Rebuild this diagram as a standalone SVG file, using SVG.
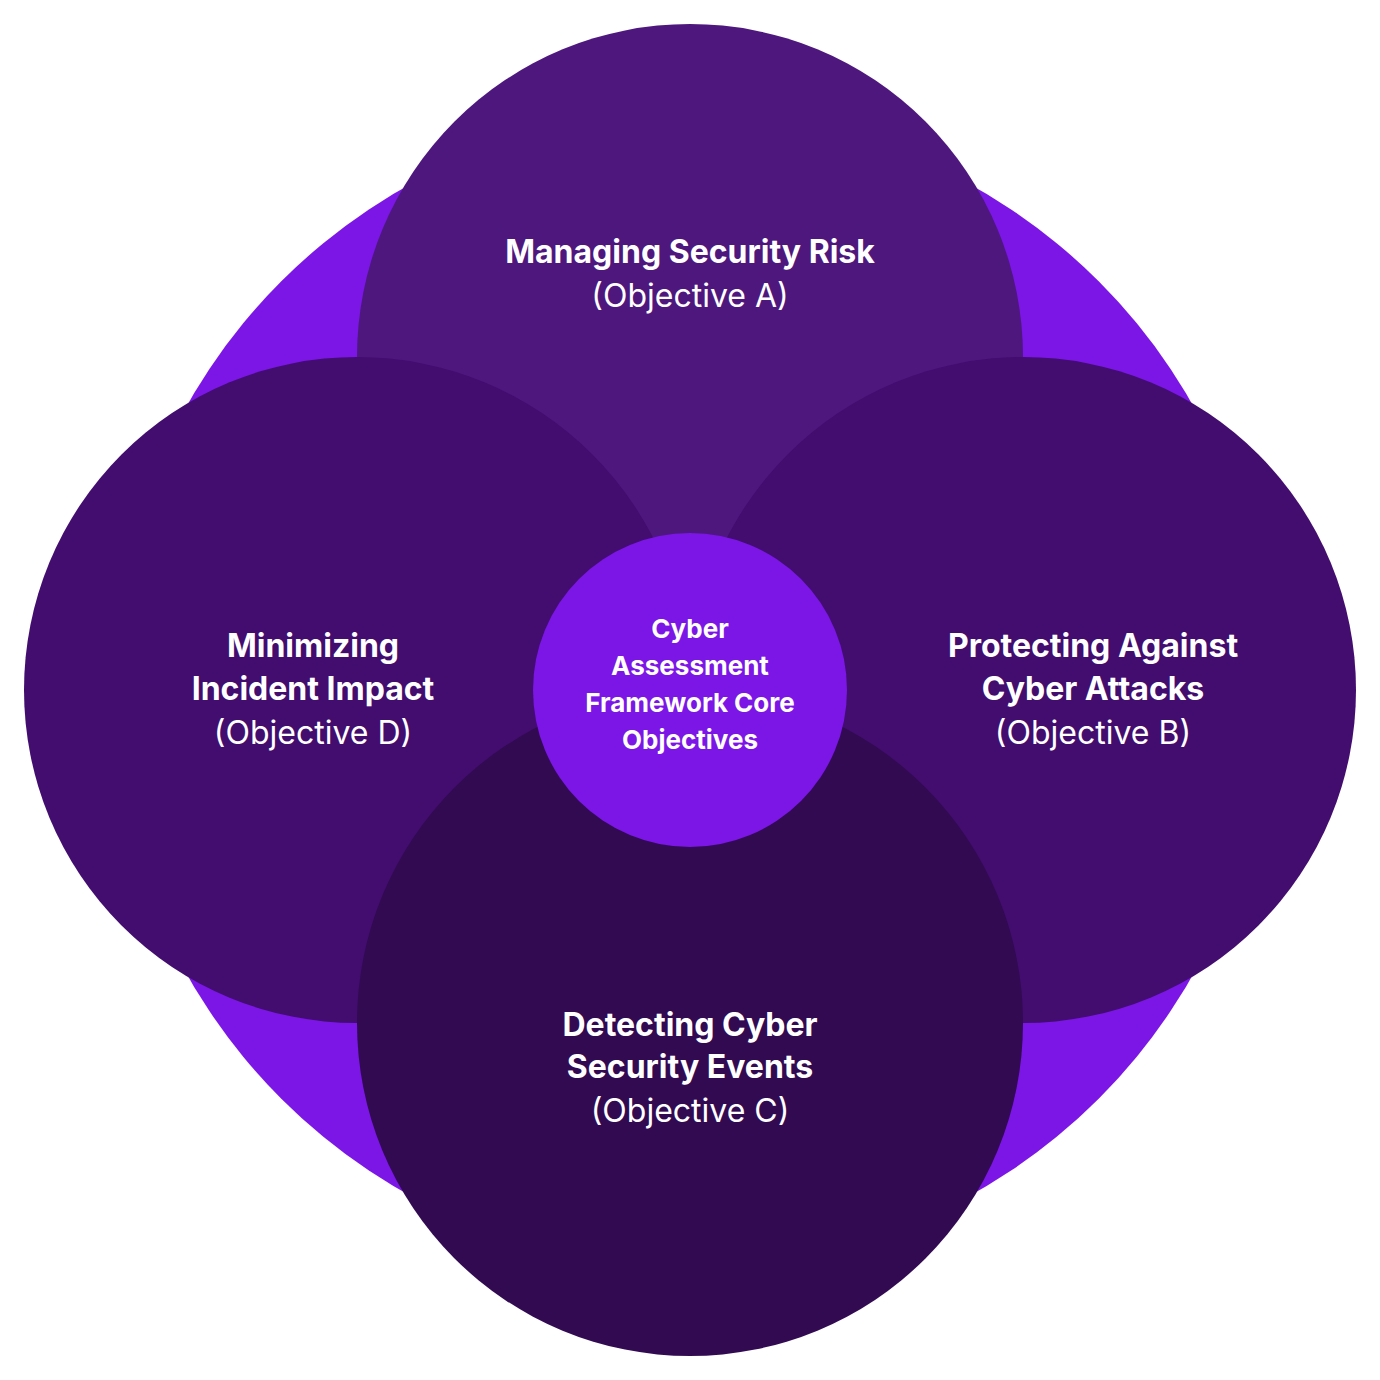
<svg xmlns="http://www.w3.org/2000/svg" width="1380" height="1380" viewBox="0 0 1380 1380">
<style>
.t{font-family:Inter,"Noto Sans",sans-serif;fill:#fff;text-anchor:middle;font-size:32px}
.b{font-weight:700}
.s{font-size:26px;font-weight:700}
</style>
<rect width="1380" height="1380" fill="#fff"/>
<g id="background"><circle cx="690" cy="690" r="578" fill="#7B16E6"/></g>
<g id="objA"><circle cx="690" cy="357" r="333" fill="#4E177D"/>
<text class="t b" x="690" y="263">Managing Security Risk</text>
<text class="t" x="690" y="307">(Objective A)</text></g>
<g id="objD"><circle cx="357" cy="690" r="333" fill="#420D6E"/>
<text class="t b" x="313" y="657">Minimizing</text>
<text class="t b" x="313" y="700">Incident Impact</text>
<text class="t" x="313" y="744">(Objective D)</text></g>
<g id="objB"><circle cx="1023" cy="690" r="333" fill="#420D6E"/>
<text class="t b" x="1093" y="657">Protecting Against</text>
<text class="t b" x="1093" y="700">Cyber Attacks</text>
<text class="t" x="1093" y="744">(Objective B)</text></g>
<g id="objC"><circle cx="690" cy="1023" r="333" fill="#320A52"/>
<text class="t b" x="690" y="1036">Detecting Cyber</text>
<text class="t b" x="690" y="1078">Security Events</text>
<text class="t" x="690" y="1122">(Objective C)</text></g>
<g id="core"><circle cx="690" cy="690" r="157" fill="#7B16E6"/>
<text class="t s" x="690" y="638">Cyber</text>
<text class="t s" x="690" y="675">Assessment</text>
<text class="t s" x="690" y="712">Framework Core</text>
<text class="t s" x="690" y="749">Objectives</text></g>
<g id="connectors"/>
</svg>
